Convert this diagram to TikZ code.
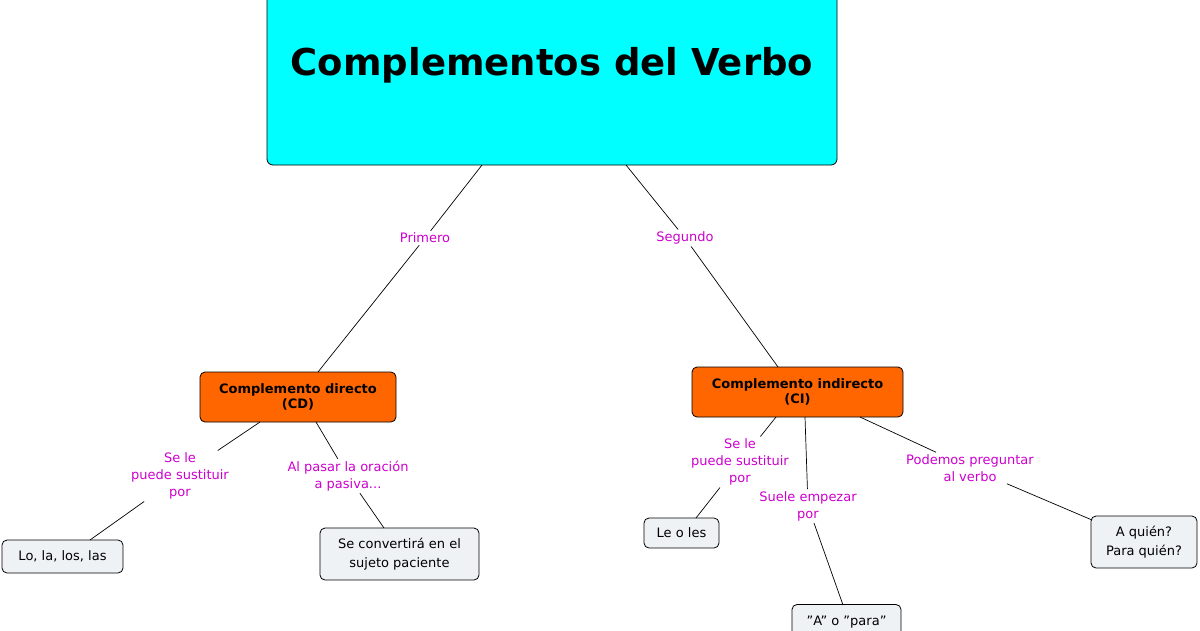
\documentclass[tikz,border=0pt]{standalone}
\usepackage{fontspec}
\setmainfont{DejaVu Sans}
\definecolor{cyanbox}{HTML}{00FFFF}
\definecolor{orangebox}{HTML}{FF6600}
\definecolor{leafbox}{HTML}{EEF2F4}
\definecolor{lab}{HTML}{CC00CC}
\begin{document}
\begin{tikzpicture}[x=1pt,y=-1pt,
  mid/.style={draw=black,fill=orangebox,rounded corners=5pt,align=center,font=\fontsize{13}{15}\selectfont\bfseries,line width=0.8pt},
  leaf/.style={draw=black,fill=leafbox,rounded corners=5pt,align=center,font=\fontsize{13}{19}\selectfont,line width=0.8pt},
  lbl/.style={text=lab,align=center,font=\fontsize{13}{17}\selectfont,inner sep=2pt},
  con/.style={line width=0.7pt}]
\useasboundingbox (0,0) rectangle (1200,630);
\node[draw=black,fill=cyanbox,rounded corners=6pt,line width=0.8pt,minimum width=570pt,minimum height=200pt,font=\fontsize{37}{40}\selectfont\bfseries] (title) at (552,65) {Complementos del Verbo};
\node[mid,minimum width=196pt,minimum height=50pt] (cd) at (298,397) {Complemento directo\\(CD)};
\node[mid,minimum width=211pt,minimum height=50pt] (ci) at (797.5,392) {Complemento indirecto\\(CI)};
\node[leaf,minimum width=121pt,minimum height=33pt] (l1) at (62.5,556.5) {Lo, la, los, las};
\node[leaf,minimum width=159pt,minimum height=52pt] (l2) at (399.5,554) {Se convertirá en el\\sujeto paciente};
\node[leaf,minimum width=75pt,minimum height=30pt] (l3) at (681.5,533) {Le o les};
\node[leaf,minimum width=106pt,minimum height=52pt] (l4) at (1144,542) {A quién?\\Para quién?};
\node[leaf,minimum width=109pt,minimum height=35pt] (l5) at (846.5,622) {"A" o "para"};
\node[lbl] (p1) at (425,238) {Primero};
\node[lbl] (p2) at (685,238) {Segundo};
\node[lbl] (a) at (180,476) {Se le\\puede sustituir\\por};
\node[lbl] (b) at (348,476) {Al pasar la oración\\a pasiva...};
\node[lbl] (c) at (740,462) {Se le\\puede sustituir\\por};
\node[lbl] (d) at (808,506) {Suele empezar\\por};
\node[lbl] (e) at (970,468) {Podemos preguntar\\al verbo};
\coordinate (t1) at (482,165); \coordinate (t2) at (626,165);
\coordinate (c1) at (260,422); \coordinate (c2) at (316,422);
\coordinate (i1) at (776,417); \coordinate (i2) at (805,417); \coordinate (i3) at (860,417);
\draw[con] (t1) -- (p1) -- (318,372);
\draw[con] (t2) -- (p2) -- (778,367);
\draw[con] (c1) -- (a) -- (90,540);
\draw[con] (c2) -- (b) -- (384,528);
\draw[con] (i1) -- (c) -- (696,518);
\draw[con] (i2) -- (d) -- (843,605);
\draw[con] (i3) -- (e) -- (1092,520);
\end{tikzpicture}
\end{document}
